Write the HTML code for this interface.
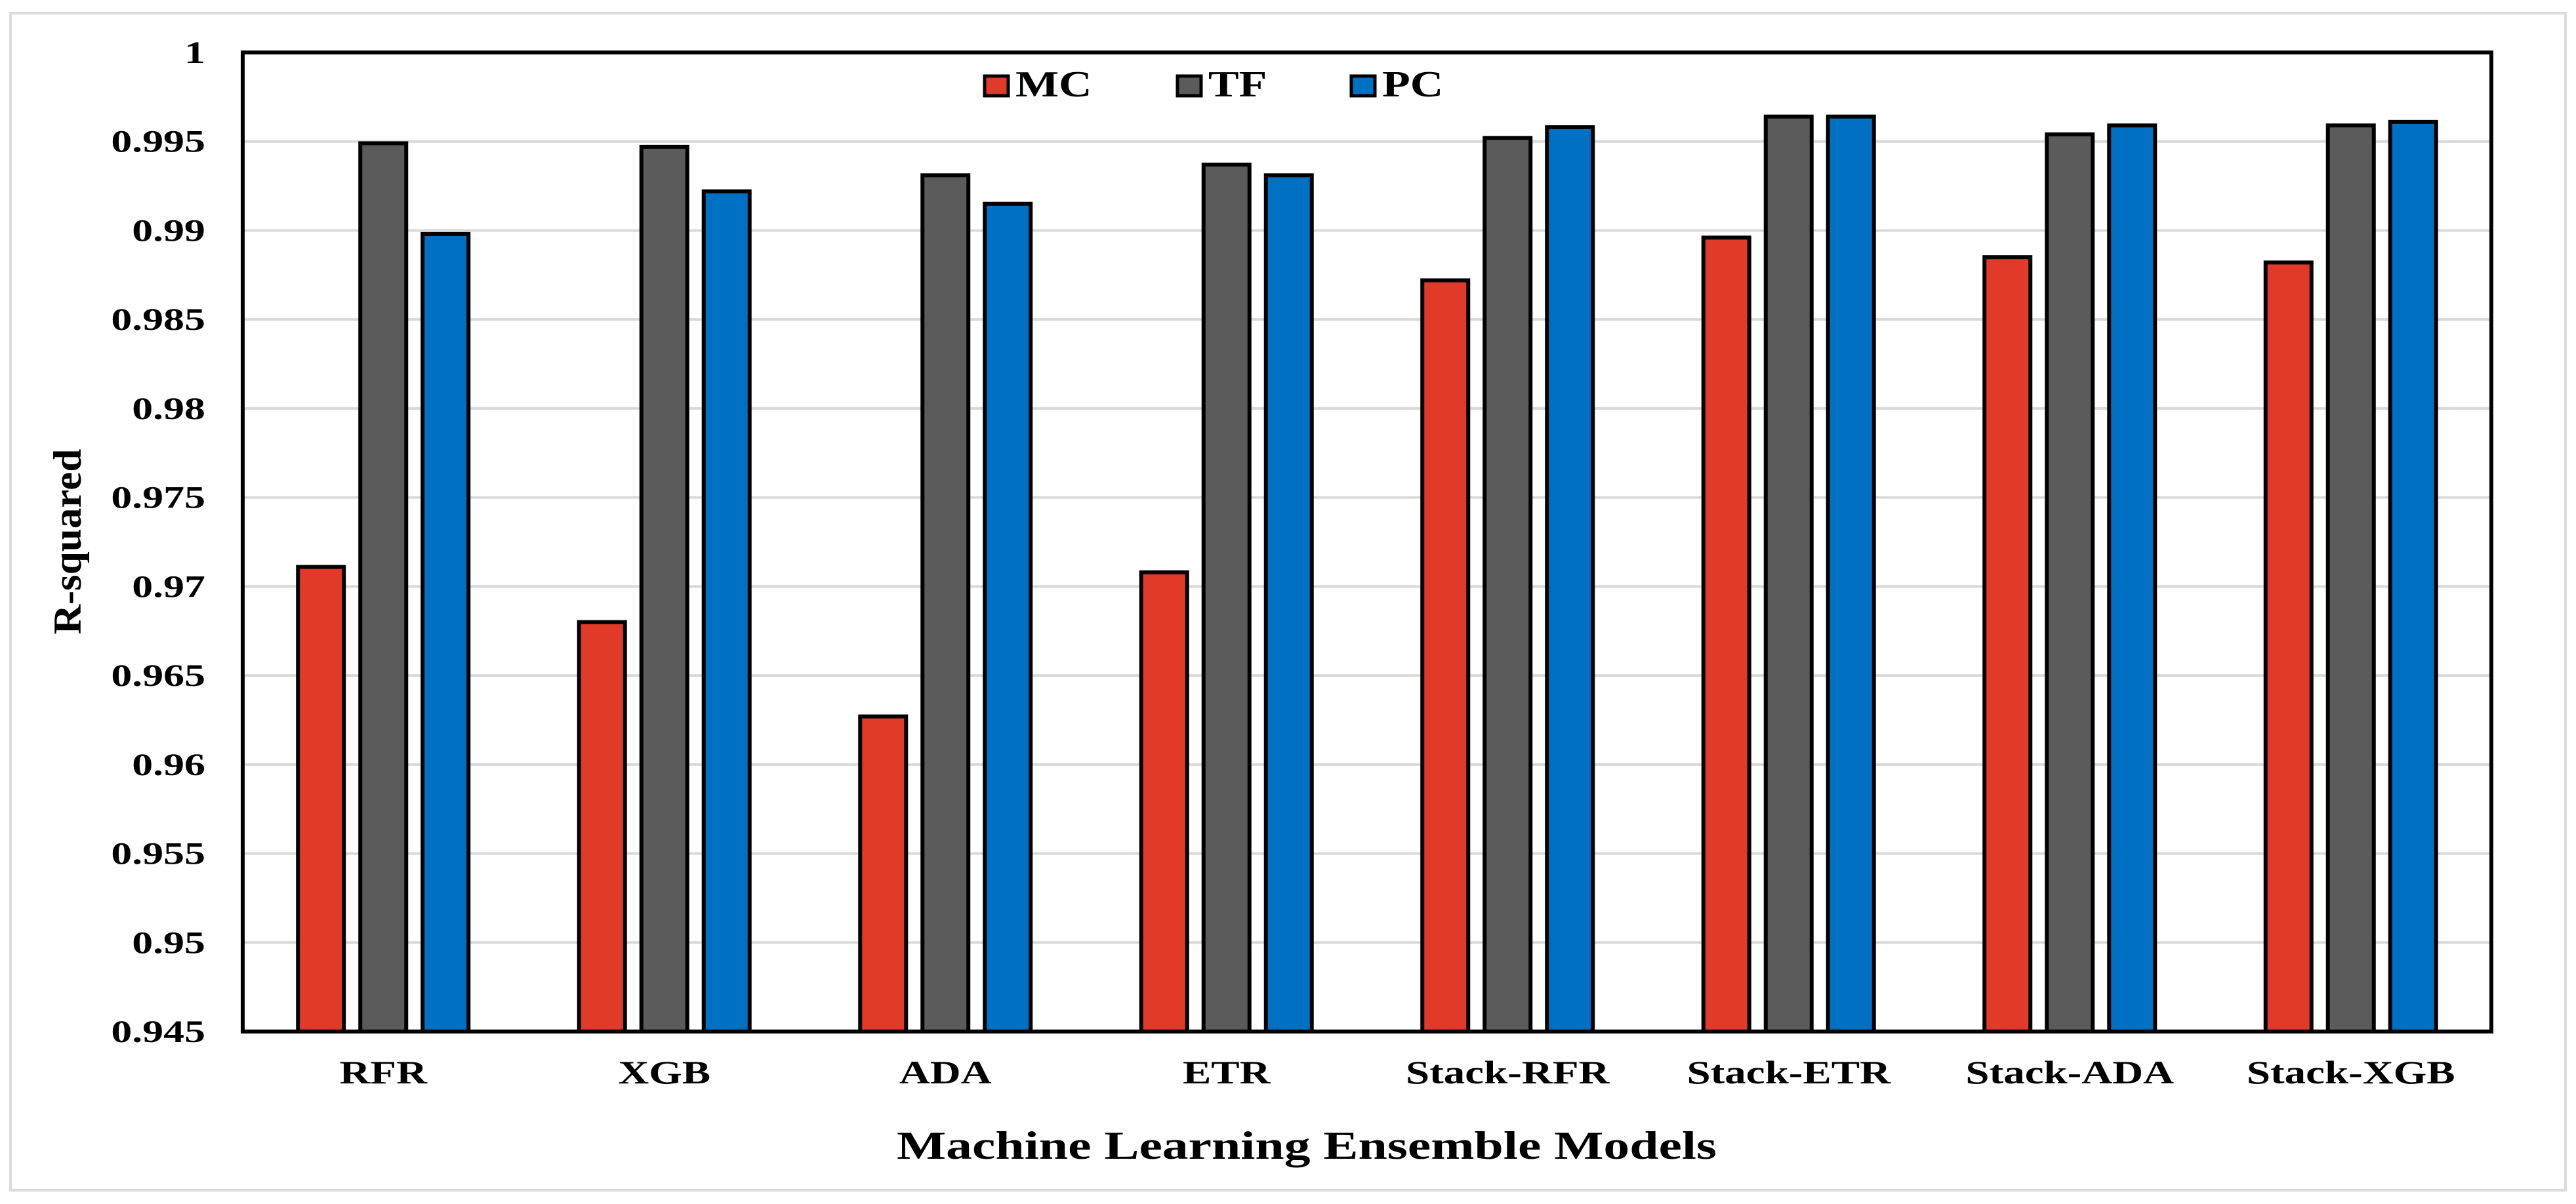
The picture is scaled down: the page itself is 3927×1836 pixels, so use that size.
<!DOCTYPE html>
<html><head><meta charset="utf-8"><style>
html,body{margin:0;padding:0;background:#fff;}
svg{display:block;font-family:"Liberation Serif",serif;font-weight:bold;}
</style></head><body>
<svg id="chart" width="3927" height="1836" viewBox="0 0 3927 1836" xmlns="http://www.w3.org/2000/svg">
<rect x="16" y="20" width="3895" height="1795" fill="#fff" stroke="#dcdcdc" stroke-width="4"/>
<g id="grid"></g>
<g id="bars"></g>
<rect x="370" y="80" width="3428" height="1493" fill="none" stroke="#000" stroke-width="6"/>
<g id="yticks"></g>
<g id="xticks"></g>
<text transform="translate(123,826) rotate(-90)" text-anchor="middle" font-size="60" textLength="283" lengthAdjust="spacingAndGlyphs">R-squared</text>
<text x="1992" y="1767" text-anchor="middle" font-size="60" textLength="1250" lengthAdjust="spacingAndGlyphs">Machine Learning Ensemble Models</text>
<g id="legend"></g>
</svg>
<script>
const categories = ["RFR","XGB","ADA","ETR","Stack-RFR","Stack-ETR","Stack-ADA","Stack-XGB"];
const seriesNames = ["MC","TF","PC"];
const mcValues = [0.9711,0.9680,0.9627,0.9708,0.9872,0.9896,0.9885,0.9882];
const tfValues = [0.9949,0.9947,0.9931,0.9937,0.9952,0.9964,0.9954,0.9959];
const pcValues = [0.9898,0.9922,0.9915,0.9931,0.9958,0.9964,0.9959,0.9961];
const yTickLabels = ["0.945","0.95","0.955","0.96","0.965","0.97","0.975","0.98","0.985","0.99","0.995","1"];
const colors = ["#E23A28","#5B5B5B","#0070C3"];
const NS = "http://www.w3.org/2000/svg";
const L=370,R=3798,T=80,B=1573,yMin=0.945,yMax=1.0;
const yScale = v => B - (v - yMin)/(yMax - yMin)*(B - T);
const groupW = (R-L)/categories.length;
const xCenter = i => L + groupW*(i+0.5);
const series = [mcValues, tfValues, pcValues];
function mk(tag, attrs, parent){const e=document.createElementNS(NS,tag);for(const k in attrs)e.setAttribute(k,attrs[k]);parent.appendChild(e);return e;}
const grid=document.getElementById('grid'), yt=document.getElementById('yticks');
yTickLabels.forEach(t=>{
  const y=yScale(parseFloat(t));
  const gl=mk('line',{x1:L,x2:R,y1:y,y2:y,stroke:'#d9d9d9','stroke-width':4},grid);
  
  
  const tx=mk('text',{x:313,y:y+16,'text-anchor':'end','font-size':48,textLength:(t.length*0.5-0.25+(t.length>1?0:0.25))*48*1.33,lengthAdjust:'spacingAndGlyphs'},yt);
  tx.textContent=t;
  
  
});
const bars=document.getElementById('bars'), xt=document.getElementById('xticks');
const barW=70, step=95;
categories.forEach((c,i)=>{
  series.forEach((s,j)=>{
    const cx=xCenter(i)+(j-1)*step;
    const y=yScale(s[i]);
    const r=mk('rect',{x:cx-barW/2,y:y,width:barW,height:B-y,fill:colors[j],stroke:'#000','stroke-width':6},bars);
    
    
  });
  const tx=mk('text',{'text-anchor':'middle','font-size':50,transform:'translate('+xCenter(i)+',1652) scale(1.3,1)'},xt);
  tx.textContent=c;
  
  
});
const lg=document.getElementById('legend');
const legendX=[1498,1792,2057];
seriesNames.forEach((n,j)=>{
  const sq=mk('rect',{x:legendX[j]+3,y:116,width:36,height:30,fill:colors[j],stroke:'#000','stroke-width':5},lg);
  
  
  const tx=mk('text',{'font-size':56,transform:'translate('+(legendX[j]+50)+',147) scale(1.25,1)'},lg);
  tx.textContent=n;
  
  
});
</script>
</body></html>
